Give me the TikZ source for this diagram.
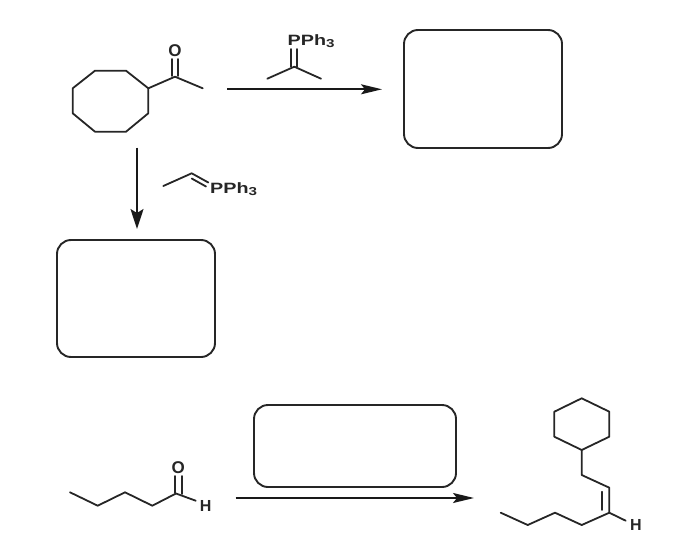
\documentclass[tikz,border=0pt]{standalone}
\usepackage{fontspec}
\setmainfont{Liberation Sans}
\usetikzlibrary{arrows.meta}
\newcommand{\pphthree}{\scalebox{1.52}[1.15]{PPh\raisebox{-2pt}{\fontsize{10}{10}\selectfont 3}}}
\begin{document}
\begin{tikzpicture}[x=1pt,y=-1pt,
  bond/.style={draw=black!85,line width=1.8pt,line join=round,line cap=round},
  answerbox/.style={draw=black!85,line width=1.9pt,rounded corners=14pt},
  rxn/.style={draw=black!90,line width=1.8pt,-{Stealth[length=21pt,width=10pt,inset=4pt]}},
  rxndown/.style={draw=black!90,line width=1.8pt,-{Stealth[length=20pt,width=13pt,inset=4pt]}},
  atom/.style={inner sep=0pt,font=\bfseries\fontsize{13}{13}\selectfont,text=black!85},
  oxygen/.style={inner sep=0pt,font=\bfseries\fontsize{17}{17}\selectfont,text=black!85},
  hydrogen/.style={inner sep=0pt,font=\bfseries\fontsize{16}{16}\selectfont,text=black!85}]
\useasboundingbox (0,0) rectangle (700,559);
% answer boxes
\draw[answerbox] (404,30) rectangle (562,148);
\draw[answerbox] (57,240) rectangle (215,357);
\draw[answerbox] (254,405) rectangle (456,487);
% arrows
\coordinate (a1s) at (227.3,89.3); \coordinate (a1e) at (382,89.3);
\coordinate (a2s) at (137,147.7); \coordinate (a2e) at (137,229);
\coordinate (a3s) at (235.7,498); \coordinate (a3e) at (474,498);
\draw[rxn] (a1s) -- (a1e);
\draw[rxndown] (a2s) -- (a2e);
\draw[rxn] (a3s) -- (a3e);
% cyclooctyl methyl ketone
\draw[bond] (148.3,88.3) -- (126,70.7) -- (95,70.7) -- (72.7,88.3) -- (72.7,113.3) -- (95,131.7) -- (126,131.7) -- (148.3,113.3) -- cycle;
\draw[bond] (148.3,88.3) -- (175,76.7) -- (202.7,88.3);
\node[oxygen] (O1) at (175,50.5) {O};
\draw[bond] (172.2,59) -- (172.2,76); \draw[bond] (178,59) -- (178,76);
% top ylide
\node[atom,anchor=base west] (P1) at (287.5,45.5) {\pphthree};
\draw[bond] (267.3,78.7) -- (294.3,66.7) -- (321,78.7);
\draw[bond] (291,49) -- (291,66.7); \draw[bond] (297.3,49) -- (297.3,66.7);
% side ylide
\node[atom,anchor=base west] (P2) at (210,193.5) {\pphthree};
\draw[bond] (163.3,186) -- (191.7,173.3) -- (208.3,182.5);
\draw[bond] (191.7,178.5) -- (206,186.5);
% pentanal
\draw[bond] (70,492.3) -- (97.7,505.7) -- (125,492.3) -- (152.3,505.7) -- (176,493.5) -- (195.7,500.7);
\draw[bond] (175.3,476) -- (175.3,493); \draw[bond] (181.7,476) -- (181.7,494);
\node[oxygen] (O2) at (178.3,467.7) {O};
\node[hydrogen] (H1) at (205.7,505.7) {H};
% product
\draw[bond] (581.7,398.3) -- (609.3,411.7) -- (609.3,436.7) -- (581.7,450) -- (554.3,436.7) -- (554.3,411.7) -- cycle;
\draw[bond] (581.7,450) -- (581.7,475) -- (609.3,487.7) -- (609.3,512.7) -- (625.7,520.7);
\draw[bond] (602.3,491.7) -- (602.3,510);
\draw[bond] (609.3,512.7) -- (581.7,525) -- (555,512.7) -- (527.7,525) -- (500.7,512.7);
\node[hydrogen] (H2) at (636,525) {H};
\end{tikzpicture}
\end{document}
